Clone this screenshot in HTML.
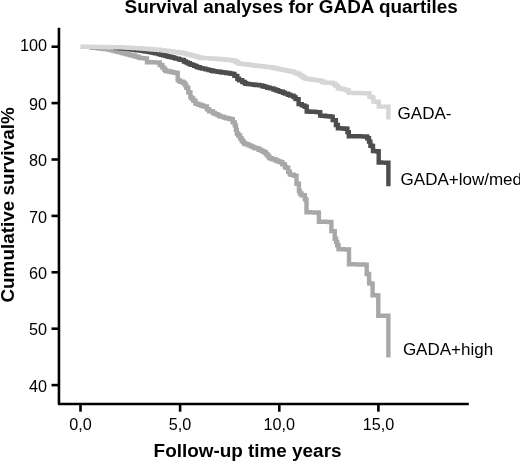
<!DOCTYPE html>
<html><head><meta charset="utf-8"><title>Survival analyses for GADA quartiles</title>
<style>
html,body{margin:0;padding:0;background:#fff;}
body{width:520px;height:462px;overflow:hidden;}
svg{display:block;}
text{font-family:"Liberation Sans",Arial,Helvetica,sans-serif;fill:#000;}
.b{font-weight:bold;font-size:18.9px;}
.t{font-size:16.2px;}
.l{font-size:17px;}
</style></head><body>
<svg width="520" height="462" viewBox="0 0 520 462">
<rect width="520" height="462" fill="#fff"/>
<path d="M90.0 47.5H91.8V47.7H95.0V47.9H97.0V48.1H97.9V48.2H100.0V48.5H102.5V48.8H104.9V49.1H107.7V49.5H108.6V49.6H110.7V50.1H112.5V50.6H114.1V51.0H117.2V51.8H119.6V52.4H122.0V53.0H124.2V53.6H126.6V54.2H129.5V55.0H131.5V55.5H131.5V55.5H134.8V56.5H138.0V57.4H139.7V57.9H140.0V58.0H141.3V58.1H143.9V58.4H145.5V58.5H147.0V62.2H149.5V62.3H151.4V62.3H153.8V62.4H155.5V62.4H157.5V62.5H157.5V62.5H159.8V65.0H162.3V67.6H164.4V69.7H165.6V71.0H168.4V71.5H170.8V72.0H172.9V72.4H174.6V72.7H176.3V73.0H177.7V79.0H178.0V80.4H180.0V81.7H183.0V82.7H184.0V83.0H185.0V85.0H186.3V87.7H188.3V92.4H190.4V97.1H191.5V98.5H193.3V100.7H195.5V103.4H195.8V103.8H198.4V104.7H201.3V105.7H203.8V106.5H206.9V109.2H209.2V111.2H212.8V113.0H215.0V114.1H217.6V115.4H220.0V116.6H223.9V117.6H226.5V118.2H229.1V118.9H230.8V119.3H230.8V119.3H232.8V122.4H234.8V125.4H235.9V129.7H236.8V133.5H238.2V135.5H240.1V138.2H241.5V140.2H242.7V141.8H244.0V143.5H245.6V144.2H248.4V145.4H250.7V146.4H253.0V147.4H254.8V148.2H258.6V149.8H261.1V150.9H263.4V151.9H264.2V152.2H265.9V154.1H267.5V156.0H269.2V157.9H269.6V158.3H272.1V159.2H275.5V160.5H278.1V161.5H280.4V162.3H282.3V164.2H284.8V166.7H285.8V167.7H288.2V171.7H289.8V174.4H291.2V174.8H293.8V175.6H294.5V175.8H296.5V183.8H298.9V190.9H299.8V193.5H301.5V195.3H304.8V199.0H305.9V200.2H306.5V212.3H307.4V212.3H309.8V212.4H311.9V212.4H314.5V212.5H317.8V212.6H318.6V212.6H318.9V221.7H322.5V221.8H325.5V221.9H328.7V222.0H330.1V222.0H331.4V231.1H334.7V238.7H336.1V241.9H337.2V245.3H338.5V249.1H339.9V249.2H342.2V249.3H343.9V249.4H346.5V249.5H349.0V264.3H351.7V264.3H354.2V264.4H356.7V264.4H358.9V264.5H361.1V264.5H363.7V264.6H366.0V264.6H366.7V274.0H369.1V282.5H369.4V283.5H371.6V283.6H372.5V283.7H372.6V295.3H375.2V295.4H377.1V295.5H378.3V315.7H379.8V315.7H382.9V315.7H386.0V315.7H388.4V357.5V357.5" fill="none" stroke="#a8a8a8" stroke-width="4.4" stroke-linejoin="miter"/>
<path d="M113.0 47.8H116.3V48.0H119.6V48.2H121.3V48.4H123.1V48.5H125.0V48.6H126.2V48.8H129.1V49.2H131.9V49.6H134.1V49.9H135.0V50.0H136.8V50.2H139.4V50.6H142.1V50.9H144.0V51.2H145.0V51.3H146.4V51.6H148.7V52.0H151.6V52.5H153.5V52.9H155.0V53.3H158.3V54.1H160.8V54.7H163.2V55.3H165.3V55.8H167.0V56.2H168.7V56.7H171.1V57.3H173.3V57.9H175.5V58.6H178.8V59.4H180.4V59.9H183.9V61.5H185.9V62.4H187.6V63.2H189.8V64.2H189.8V64.2H191.6V64.9H194.1V65.9H196.5V66.9H197.5V67.2H200.0V68.1H202.3V68.6H205.5V69.4H208.5V70.1H211.4V70.7H213.5V71.2H214.7V71.4H217.6V71.8H220.7V72.2H222.9V72.5H226.2V73.0H229.6V73.5H231.5V73.8H232.3V73.9H234.4V75.9H237.3V78.7H239.0V80.3H242.3V82.0H244.8V83.3H245.8V83.8H248.1V84.1H250.6V84.4H253.7V84.7H255.9V85.0H259.1V85.4H259.2V85.4H262.3V86.3H264.7V86.9H267.3V87.7H270.0V88.4H273.5V89.5H276.0V90.3H278.0V90.9H278.5V91.1H280.2V91.7H283.0V92.8H284.9V93.6H287.9V94.7H290.2V95.6H293.5V96.9H294.6V97.4H295.6V99.1H298.6V104.1H301.8V105.4H304.3V106.4H305.4V106.8H306.7V111.5H309.6V111.7H312.3V111.8H314.5V111.9H316.4V112.1H318.8V112.2H320.2V115.6H322.2V115.8H325.0V116.1H326.7V116.2H329.8V116.5H330.4V116.6H332.7V120.1H335.9V125.0H337.9V128.0H338.0V128.2H340.8V128.4H342.5V128.5H345.3V128.7H346.2V128.8H347.4V132.1H348.8V136.2H352.6V136.3H354.4V136.3H356.9V136.3H360.0V136.4H362.1V136.4H364.0V136.5H366.3V136.5H367.2V138.3H369.0V141.6H370.4V145.7H372.5V146.2H373.0V151.0H374.1V151.1H376.4V151.3H378.3V151.5H378.5V151.5H378.7V162.5H381.1V162.6H382.9V162.6H386.2V162.7H387.8V162.8H388.4V186.3V186.3" fill="none" stroke="#4d4d4d" stroke-width="4.4" stroke-linejoin="miter"/>
<path d="M80.4 46.8H82.4V46.8H85.0V46.8H87.3V46.8H90.0V46.8H92.7V46.9H94.4V46.9H96.0V46.9H99.1V46.9H100.0V46.9H101.2V46.9H103.2V47.0H106.6V47.0H109.1V47.1H112.2V47.1H114.6V47.2H117.4V47.2H119.2V47.3H120.0V47.3H122.0V47.4H125.2V47.6H127.7V47.7H130.6V47.9H133.4V48.1H135.2V48.1H138.1V48.3H140.8V48.5H142.9V48.6H144.6V48.7H145.0V48.7H147.7V49.0H150.2V49.2H153.1V49.5H156.3V49.8H159.2V50.0H160.0V50.1H162.4V50.4H164.7V50.7H167.8V51.1H170.2V51.4H173.4V51.9H176.6V52.3H178.4V52.5H180.2V52.8H180.4V52.8H182.2V53.2H185.6V54.0H188.0V54.5H190.7V55.2H192.8V55.7H193.8V55.9H195.3V56.4H197.6V57.1H199.9V57.8H200.0V57.8H202.5V58.0H205.2V58.1H208.4V58.4H211.2V58.5H213.5V58.7H214.5V58.8H217.6V59.0H221.0V59.3H223.8V59.5H225.7V59.7H228.9V59.9H231.0V60.1H232.2V60.6H235.4V62.0H238.1V63.2H239.0V63.6H240.9V63.9H242.9V64.1H246.0V64.5H248.7V64.8H250.8V65.1H252.5V65.3H253.8V65.5H255.6V65.7H259.0V66.1H260.8V66.3H263.8V66.6H266.1V66.9H268.0V67.1H270.0V67.3H273.1V68.0H276.3V68.6H278.0V69.0H278.5V69.1H280.7V69.5H282.4V69.9H285.3V70.5H287.5V70.9H290.6V71.5H291.9V71.8H294.0V72.6H296.5V73.5H297.3V73.8H299.9V75.4H302.1V76.6H303.8V77.7H305.4V78.6H306.5V78.8H308.1V79.0H310.1V79.3H312.4V79.7H315.1V80.1H317.0V80.3H318.7V80.6H318.8V80.6H321.9V81.7H324.0V82.5H324.2V82.6H327.4V82.7H330.6V82.8H331.7V82.8H332.8V83.7H335.3V85.6H337.8V87.6H338.5V88.2H340.6V88.7H343.2V89.4H345.8V90.0H346.5V90.2H348.6V92.3H349.2V92.9H351.9V92.9H354.4V93.0H356.7V93.0H359.6V93.1H361.7V93.1H363.8V93.2H366.7V93.2H369.4V96.9H372.1V97.6H373.5V101.6H376.3V101.8H378.2V102.0H378.8V106.6H380.5V106.6H383.2V106.6H386.0V106.6H387.7V106.6H388.4V119.6V119.6" fill="none" stroke="#d6d6d6" stroke-width="4.4" stroke-linejoin="miter"/>
<g stroke="#000" stroke-width="2.6" fill="none">
<path d="M58.95 27.8V403.95H468.8" stroke-linejoin="round" stroke-linecap="butt"/>
<path d="M51.5 46.7H59"/>
<path d="M51.5 103.1H59"/>
<path d="M51.5 159.5H59"/>
<path d="M51.5 215.9H59"/>
<path d="M51.5 272.3H59"/>
<path d="M51.5 328.7H59"/>
<path d="M51.5 385.1H59"/>
<path d="M80.5 404V411.7"/>
<path d="M180.1 404V411.7"/>
<path d="M279.3 404V411.7"/>
<path d="M378.4 404V411.7"/>
</g>
<text class="t" x="46.9" y="51.4" text-anchor="end">100</text>
<text class="t" x="46.9" y="109.7" text-anchor="end">90</text>
<text class="t" x="46.9" y="166.4" text-anchor="end">80</text>
<text class="t" x="46.9" y="222.7" text-anchor="end">70</text>
<text class="t" x="46.9" y="279.1" text-anchor="end">60</text>
<text class="t" x="46.9" y="335.4" text-anchor="end">50</text>
<text class="t" x="46.9" y="391.9" text-anchor="end">40</text>
<text class="t" x="80.5" y="430.3" text-anchor="middle">0,0</text>
<text class="t" x="180.1" y="430.3" text-anchor="middle">5,0</text>
<text class="t" x="279.3" y="430.3" text-anchor="middle">10,0</text>
<text class="t" x="378.4" y="430.3" text-anchor="middle">15,0</text>
<text class="b" x="124.6" y="12.6">Survival analyses for GADA quartiles</text>
<text class="b" x="153.6" y="457.4">Follow-up time years</text>
<text class="b" transform="translate(14.1 302.6) rotate(-90)">Cumulative survival%</text>
<text class="l" x="397.6" y="118.8">GADA-</text>
<text class="l" x="400.6" y="184.8">GADA+low/med</text>
<text class="l" x="402.9" y="354.6">GADA+high</text>
</svg></body></html>
